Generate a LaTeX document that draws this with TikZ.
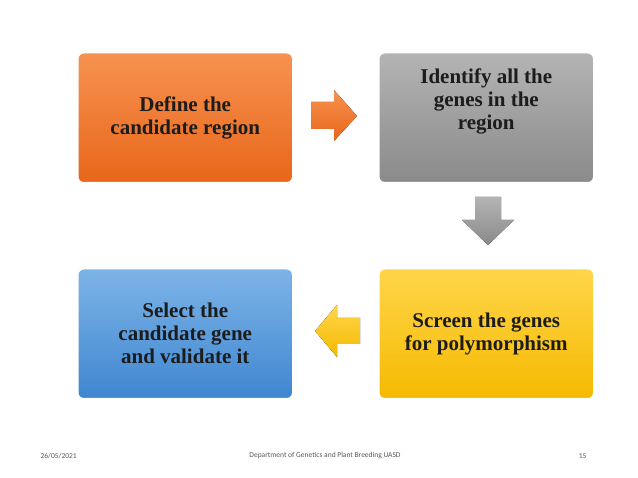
\documentclass[tikz,border=0pt]{standalone}
\usepackage{fontspec}
\setmainfont{Liberation Serif}
\newfontfamily\footfont{Carlito}
\definecolor{txt}{HTML}{1C1C1C}
\definecolor{orA}{HTML}{F79250}\definecolor{orB}{HTML}{E8661A}
\definecolor{grA}{HTML}{B4B4B4}\definecolor{grB}{HTML}{8A8A8A}
\definecolor{blA}{HTML}{7DB4E8}\definecolor{blB}{HTML}{3F86D0}
\definecolor{yeA}{HTML}{FFD54A}\definecolor{yeB}{HTML}{F5BA00}
\begin{document}
\begin{tikzpicture}[x=1pt,y=-1pt,
  box/.style={rounded corners=6pt,draw=white,line width=1.5pt,minimum width=215pt,minimum height=130pt,anchor=north west,align=center,text=txt,font=\bfseries\fontsize{21}{23}\selectfont},
  foot/.style={font=\footfont\fontsize{7.5}{9}\selectfont,text=black!65}]
\useasboundingbox (0,0) rectangle (638,478);
\fill[white] (0,0) rectangle (638,478);
\node[box,top color=orA,bottom color=orB] (a) at (77,52) {Define the\\candidate region};
\node[box,top color=grA,bottom color=grB] (b) at (378,52) {Identify all the\\genes in the\\region\\[14pt]};
\node[box,top color=blA,bottom color=blB] (d) at (77,268) {Select the\\candidate gene\\and validate it};
\node[box,top color=yeA,bottom color=yeB] (c) at (378,268) {Screen the genes\\for polymorphism};
\fill[top color=orA,bottom color=orB] (311,102) -- (334,102) -- (334,90) -- (357,116) -- (334,141) -- (334,129) -- (311,129) -- cycle;
\fill[top color=grA,bottom color=grB] (475,197) -- (501,197) -- (501,220) -- (514,220) -- (488,245) -- (462,220) -- (475,220) -- cycle;
\fill[top color=yeA,bottom color=yeB] (360,318) -- (337,318) -- (337,305) -- (315,331) -- (337,357) -- (337,344) -- (360,344) -- cycle;
\node[foot,anchor=west] (f1) at (37,456) {26/05/2021};
\node[foot] (f2) at (325,456) {Department of Genetics and Plant Breeding UASD};
\node[foot,anchor=east] (f3) at (590,456) {15};
\end{tikzpicture}
\end{document}
